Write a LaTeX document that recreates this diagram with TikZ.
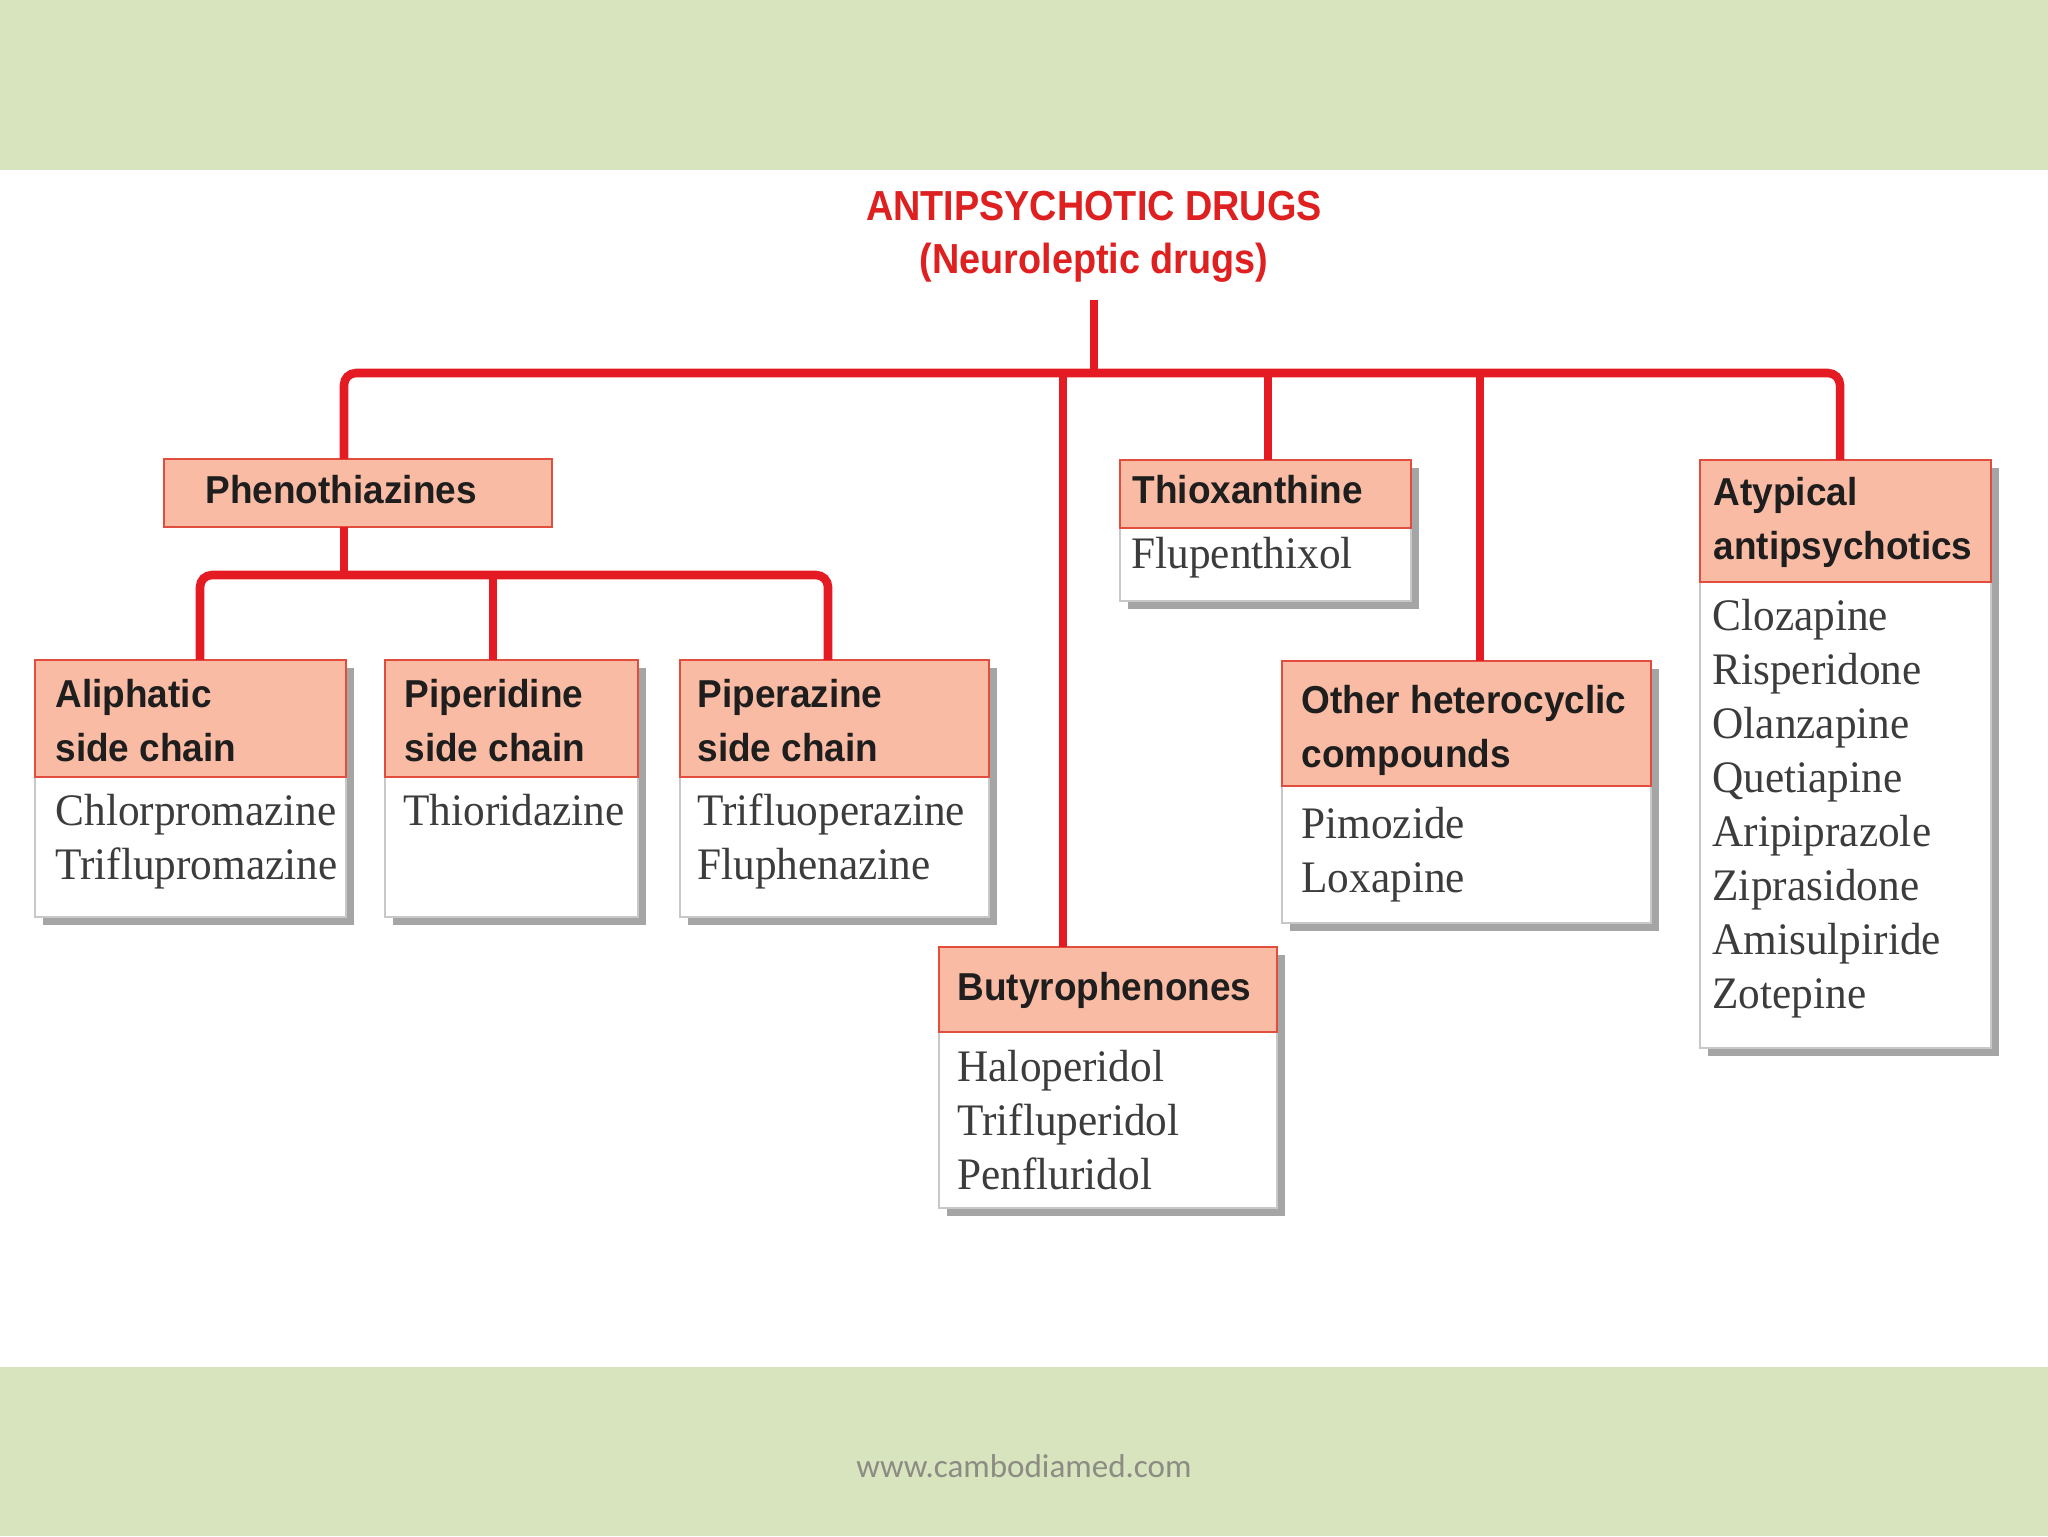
\documentclass[tikz,border=0pt]{standalone}
\usepackage{fontspec}
\setmainfont{Liberation Serif}
\newfontfamily\hdrfont[FakeStretch=0.95]{Liberation Sans}
\newfontfamily\ttlfont[FakeStretch=0.9]{Liberation Sans}
\newfontfamily\ftrfont{Carlito}
\newfontfamily\bodyfont[FakeStretch=0.96]{Liberation Serif}
\definecolor{band}{RGB}{215,228,189}
\definecolor{linered}{RGB}{228,27,35}
\definecolor{salmon}{RGB}{249,187,163}
\definecolor{hdrline}{RGB}{226,78,62}
\definecolor{bodyline}{RGB}{200,200,200}
\definecolor{shadowgray}{RGB}{165,165,165}
\definecolor{hdrink}{RGB}{30,30,30}
\definecolor{bodyink}{RGB}{60,60,60}
\definecolor{titlered}{RGB}{222,32,32}
\definecolor{ftrgray}{RGB}{140,140,132}
\newcommand\ml[1]{\begin{tabular}[t]{@{}l@{}}#1\end{tabular}}
\newcommand\mkbox[6]{%
  \fill[shadowbox] (#2+8,#3+8) rectangle (#4+8,#6+8);
  \draw[bodybox] (#2,#5) rectangle (#4,#6);
  \node[headbox, anchor=north west, minimum width={(#4-#2)*0.375pt}, minimum height={(#5-#3)*0.375pt}] (#1) at (#2,#3) {};
}
\tikzset{
  link/.style={draw=linered, line width=3.2pt},
  headbox/.style={draw=hdrline, fill=salmon, line width=1.1pt, inner sep=0pt, outer sep=0pt},
  bodybox/.style={draw=bodyline, fill=white, line width=0.8pt},
  shadowbox/.style={fill=shadowgray},
  hdrtext/.style={anchor=base west, inner sep=0pt, text=hdrink, font=\hdrfont\bfseries\fontsize{14.6}{20.6}\selectfont},
  bodytext/.style={anchor=base west, inner sep=0pt, text=bodyink, font=\bodyfont\fontsize{16.9}{20.25}\selectfont},
}
\begin{document}
\begin{tikzpicture}[x=0.375pt, y=-0.375pt]
\useasboundingbox (0,0) rectangle (2048,1536);
\fill[white] (0,0) rectangle (2048,1536);
\fill[band] (0,0) rectangle (2048,170);
\fill[band] (0,1367) rectangle (2048,1536);

% title
\node[anchor=base, inner sep=0pt, text=titlered, font=\ttlfont\bfseries\fontsize{15.75}{19.9}\selectfont] (title) at (1094,220)
  {\begin{tabular}[t]{@{}c@{}}ANTIPSYCHOTIC DRUGS\\(Neuroleptic drugs)\end{tabular}};

% boxes
\mkbox{ali}{35}{660}{346}{777}{917}
\mkbox{pipd}{385}{660}{638}{777}{917}
\mkbox{pipz}{680}{660}{989}{777}{917}
\mkbox{buty}{939}{947}{1277}{1032}{1208}
\mkbox{thx}{1120}{460}{1411}{528}{601}
\mkbox{oth}{1282}{661}{1651}{786}{923}
\mkbox{aty}{1700}{460}{1991}{582}{1048}
\node[headbox, anchor=north west, minimum width={(552-164)*0.375pt}, minimum height={(527-459)*0.375pt}] (phen) at (164,459) {};

% connector coordinates
\coordinate (tstem) at (1094,300);
\coordinate (xphen) at (344,373);
\coordinate (xbut) at (1063,373);
\coordinate (xthx) at (1268,373);
\coordinate (xoth) at (1480,373);
\coordinate (xaty) at (1840,373);
\coordinate (sp) at (344,575);
\coordinate (sa) at (200,575);
\coordinate (sb) at (493,575);
\coordinate (sc) at (828,575);

% connectors
\draw[link] (tstem) -- (tstem |- xphen);
\draw[link, rounded corners=4.5pt] (phen.north -| xphen) -- (xphen) -- (xaty) -- (aty.north -| xaty);
\draw[link] (xbut) -- (buty.north -| xbut);
\draw[link] (xthx) -- (thx.north -| xthx);
\draw[link] (xoth) -- (oth.north -| xoth);
\draw[link] (phen.south -| sp) -- (sp);
\draw[link, rounded corners=4.5pt] (ali.north -| sa) -- (sa) -- (sc) -- (pipz.north -| sc);
\draw[link] (sb) -- (pipd.north -| sb);

% header texts
\node[hdrtext] (h_phen) at (205,503) {Phenothiazines};
\node[hdrtext] (h_ali) at (55,707) {\ml{Aliphatic\\side chain}};
\node[hdrtext] (h_pipd) at (404,707) {\ml{Piperidine\\side chain}};
\node[hdrtext] (h_pipz) at (697,707) {\ml{Piperazine\\side chain}};
\node[hdrtext] (h_thx) at (1132,503) {Thioxanthine};
\node[hdrtext] (h_oth) at (1301,713) {\ml{Other heterocyclic\\compounds}};
\node[hdrtext] (h_aty) at (1713,505) {\ml{Atypical\\antipsychotics}};
\node[hdrtext] (h_buty) at (957,1000) {Butyrophenones};

% body texts
\node[bodytext] (b_ali) at (55,825) {\ml{Chlorpromazine\\Triflupromazine}};
\node[bodytext] (b_pipd) at (403,825) {Thioridazine};
\node[bodytext] (b_pipz) at (697,825) {\ml{Trifluoperazine\\Fluphenazine}};
\node[bodytext] (b_thx) at (1131,568) {Flupenthixol};
\node[bodytext] (b_oth) at (1301,838) {\ml{Pimozide\\Loxapine}};
\node[bodytext] (b_aty) at (1712,630) {\ml{Clozapine\\Risperidone\\Olanzapine\\Quetiapine\\Aripiprazole\\Ziprasidone\\Amisulpiride\\Zotepine}};
\node[bodytext] (b_buty) at (957,1081) {\ml{Haloperidol\\Trifluperidol\\Penfluridol}};

% footer
\node[anchor=base, inner sep=0pt, text=ftrgray, font=\ftrfont\fontsize{12.4}{14}\selectfont] (footer) at (1024,1477) {www.cambodiamed.com};
\end{tikzpicture}
\end{document}
